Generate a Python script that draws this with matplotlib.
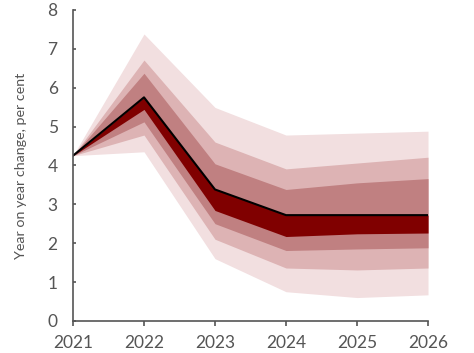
import numpy as np
import matplotlib
matplotlib.use("Agg")
import matplotlib.pyplot as plt

plt.rcParams['font.family'] = ['Lato', 'DejaVu Sans']

years = [2021, 2022, 2023, 2024, 2025, 2026]
central = [4.25, 5.75, 3.38, 2.72, 2.72, 2.72]

# band edges, outer to inner
upper_90 = [4.25, 7.38, 5.49, 4.78, 4.83, 4.88]
upper_70 = [4.25, 6.71, 4.60, 3.91, 4.06, 4.21]
upper_50 = [4.25, 6.37, 4.04, 3.38, 3.55, 3.66]
lower_30 = [4.25, 5.44, 2.84, 2.17, 2.24, 2.26]
lower_50 = [4.25, 5.12, 2.50, 1.81, 1.85, 1.88]
lower_70 = [4.25, 4.78, 2.10, 1.36, 1.31, 1.36]
lower_90 = [4.25, 4.35, 1.60, 0.75, 0.60, 0.67]

c_light = "#f2dfe0"
c_mid = "#ddb3b4"
c_med = "#c08081"
c_dark = "#800000"
grey = "#555555"

fig = plt.figure(figsize=(4.74, 3.53), dpi=100)
ax = fig.add_axes([0.154, 0.091, 0.749, 0.881])

ax.fill_between(years, lower_90, upper_90, color=c_light, lw=0)
ax.fill_between(years, lower_70, upper_70, color=c_mid, lw=0)
ax.fill_between(years, lower_50, upper_50, color=c_med, lw=0)
ax.fill_between(years, lower_30, central, color=c_dark, lw=0)
ax.plot(years, central, color="black", lw=1.5)

ax.set_xlim(2021, 2026)
ax.set_ylim(0, 8)
ax.set_xticks(years)
ax.set_yticks(range(0, 9))
ax.set_ylabel("Year on year change, per cent", fontsize=10.3, color=grey, labelpad=15)

for s in ["top", "right"]:
    ax.spines[s].set_visible(False)
for s in ["left", "bottom"]:
    ax.spines[s].set_color(grey)
    ax.spines[s].set_linewidth(1.2)
ax.tick_params(colors=grey, labelsize=12.5, width=1.2)
ax.tick_params(axis="x", direction="out", length=3.5, pad=7)
ax.tick_params(axis="y", direction="in", length=2.5, pad=11)

fig.savefig("out.png", dpi=100)
